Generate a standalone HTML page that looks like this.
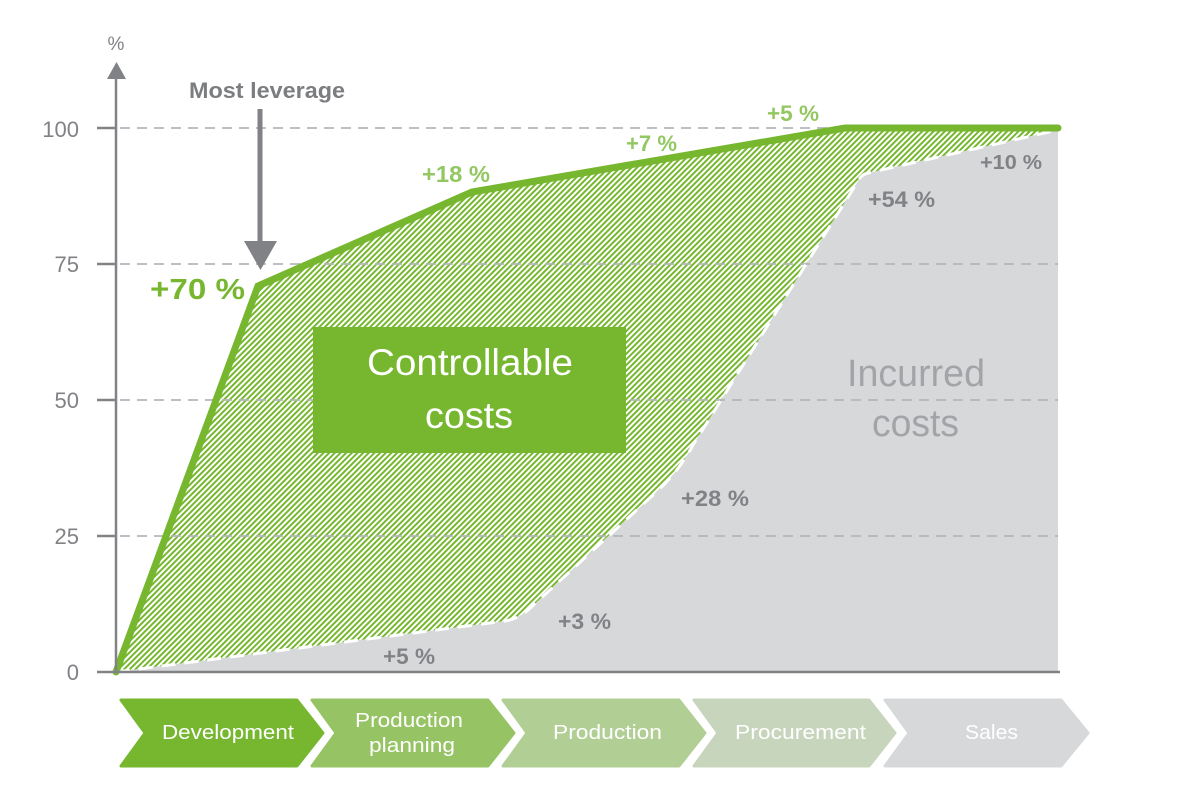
<!DOCTYPE html>
<html>
<head>
<meta charset="utf-8">
<style>
html,body{margin:0;padding:0;background:#fff;}
svg{display:block;}
text{font-family:"Liberation Sans",sans-serif;}
</style>
</head>
<body>
<svg width="1201" height="801" viewBox="0 0 1201 801" xmlns="http://www.w3.org/2000/svg">
<defs>
<pattern id="h" patternUnits="userSpaceOnUse" width="4" height="4" patternTransform="rotate(45)">
<rect width="4" height="4" fill="#ffffff"/>
<rect width="2.1" height="4" fill="#76b72f" shape-rendering="crispEdges"/>
</pattern>
</defs>
<rect width="1201" height="801" fill="#fff"/>

<!-- incurred costs gray area -->
<path d="M116,672 L505,621 Q517,619 527,611 L653,495 Q678,473 693,445 L860,178 Q863,174 868,173 L1058,130 L1058,672 Z" fill="#d7d8da"/>

<!-- hatched controllable area -->
<path d="M116,672 L258,286 L472,192 L845,128 L1058,128 L1058,130 L868,173 Q863,174 860,178 L693,445 Q678,473 653,495 L527,611 Q517,619 505,621 Z" fill="url(#h)"/>

<!-- gridlines -->
<g stroke="#b3b5b8" stroke-width="2" stroke-dasharray="10 7" opacity="0.85">
<line x1="120" y1="128" x2="1058" y2="128"/>
<line x1="120" y1="264" x2="1058" y2="264"/>
<line x1="120" y1="400" x2="1058" y2="400"/>
<line x1="120" y1="536" x2="1058" y2="536"/>
</g>

<!-- dashed white boundary -->
<path d="M116,672 L505,621 Q517,619 527,611 L653,495 Q678,473 693,445 L860,178 Q863,174 868,173 L1058,130" fill="none" stroke="#fff" stroke-width="3" stroke-dasharray="14 9"/>

<!-- green line -->
<polyline points="116,672 258,286 472,192 845,128 1058,128" fill="none" stroke="#76b72f" stroke-width="7" stroke-linejoin="miter" stroke-linecap="round"/>

<!-- axes -->
<g stroke="#808285" stroke-width="2.5">
<line x1="97" y1="672" x2="1060" y2="672"/>
<line x1="116" y1="673" x2="116" y2="76"/>
<line x1="97" y1="128" x2="116" y2="128"/>
<line x1="97" y1="264" x2="116" y2="264"/>
<line x1="97" y1="400" x2="116" y2="400"/>
<line x1="97" y1="536" x2="116" y2="536"/>
</g>
<polygon points="107,79 116.5,62 126,79" fill="#808285"/>
<text x="116" y="50" font-size="19" fill="#808285" text-anchor="middle">%</text>

<!-- tick labels -->
<g font-size="22" fill="#808285" text-anchor="end">
<text x="79" y="137">100</text>
<text x="79" y="272">75</text>
<text x="79" y="408">50</text>
<text x="79" y="544">25</text>
<text x="79" y="680">0</text>
</g>

<!-- most leverage arrow -->
<text x="189" y="98" font-size="22" font-weight="bold" fill="#7b7d80" textLength="156" lengthAdjust="spacingAndGlyphs">Most leverage</text>
<rect x="257.5" y="109" width="5" height="134" fill="#808285"/>
<polygon points="244,241 277,241 260.5,270" fill="#808285"/>

<!-- green labels -->
<text x="150" y="299" font-size="29" font-weight="bold" fill="#76b72f" textLength="95" lengthAdjust="spacingAndGlyphs">+70 %</text>
<g font-weight="bold" fill="#93c762">
<text x="422" y="182" font-size="23" textLength="68" lengthAdjust="spacingAndGlyphs">+18 %</text>
<text x="626" y="151" font-size="22" textLength="51" lengthAdjust="spacingAndGlyphs">+7 %</text>
<text x="767" y="121" font-size="22" textLength="52" lengthAdjust="spacingAndGlyphs">+5 %</text>
</g>

<!-- gray labels -->
<g font-weight="bold" fill="#808285">
<text x="868" y="207" font-size="22" textLength="67" lengthAdjust="spacingAndGlyphs">+54 %</text>
<text x="980" y="169" font-size="20" textLength="62" lengthAdjust="spacingAndGlyphs">+10 %</text>
<text x="681" y="506" font-size="22" textLength="68" lengthAdjust="spacingAndGlyphs">+28 %</text>
<text x="558" y="629" font-size="22" textLength="53" lengthAdjust="spacingAndGlyphs">+3 %</text>
<text x="383" y="664" font-size="22" textLength="52" lengthAdjust="spacingAndGlyphs">+5 %</text>
</g>

<!-- controllable costs box -->
<rect x="313" y="327" width="313" height="126" fill="#76b72f"/>
<text x="367" y="375" font-size="37" fill="#fff" textLength="206" lengthAdjust="spacingAndGlyphs">Controllable</text>
<text x="425" y="428" font-size="37" fill="#fff" textLength="88" lengthAdjust="spacingAndGlyphs">costs</text>

<!-- incurred costs -->
<text x="847" y="386" font-size="38" fill="#a2a4a7" textLength="138" lengthAdjust="spacingAndGlyphs">Incurred</text>
<text x="872" y="436" font-size="38" fill="#a2a4a7" textLength="87" lengthAdjust="spacingAndGlyphs">costs</text>

<!-- chevrons -->
<g stroke-linejoin="round" stroke-width="3">
<polygon points="121,700 297,700 323,733 297,766 121,766 145,733" fill="#76b72f" stroke="#76b72f"/>
<polygon points="312,700 488,700 514,733 488,766 312,766 336,733" fill="#96c363" stroke="#96c363"/>
<polygon points="503,700 679,700 705,733 679,766 503,766 527,733" fill="#b1cf94" stroke="#b1cf94"/>
<polygon points="694,700 869,700 895,733 869,766 694,766 718,733" fill="#c8d5bd" stroke="#c8d5bd"/>
<polygon points="885,700 1061,700 1088,733 1061,766 885,766 909,733" fill="#d7d8da" stroke="#d7d8da"/>
</g>
<g fill="#fff" font-size="20">
<text x="162" y="739" textLength="132" lengthAdjust="spacingAndGlyphs">Development</text>
<text x="355" y="727" textLength="108" lengthAdjust="spacingAndGlyphs">Production</text>
<text x="369" y="752" textLength="86" lengthAdjust="spacingAndGlyphs">planning</text>
<text x="553" y="739" textLength="109" lengthAdjust="spacingAndGlyphs">Production</text>
<text x="735" y="739" textLength="131" lengthAdjust="spacingAndGlyphs">Procurement</text>
<text x="965" y="739" textLength="53" lengthAdjust="spacingAndGlyphs">Sales</text>
</g>
</svg>
</body>
</html>
